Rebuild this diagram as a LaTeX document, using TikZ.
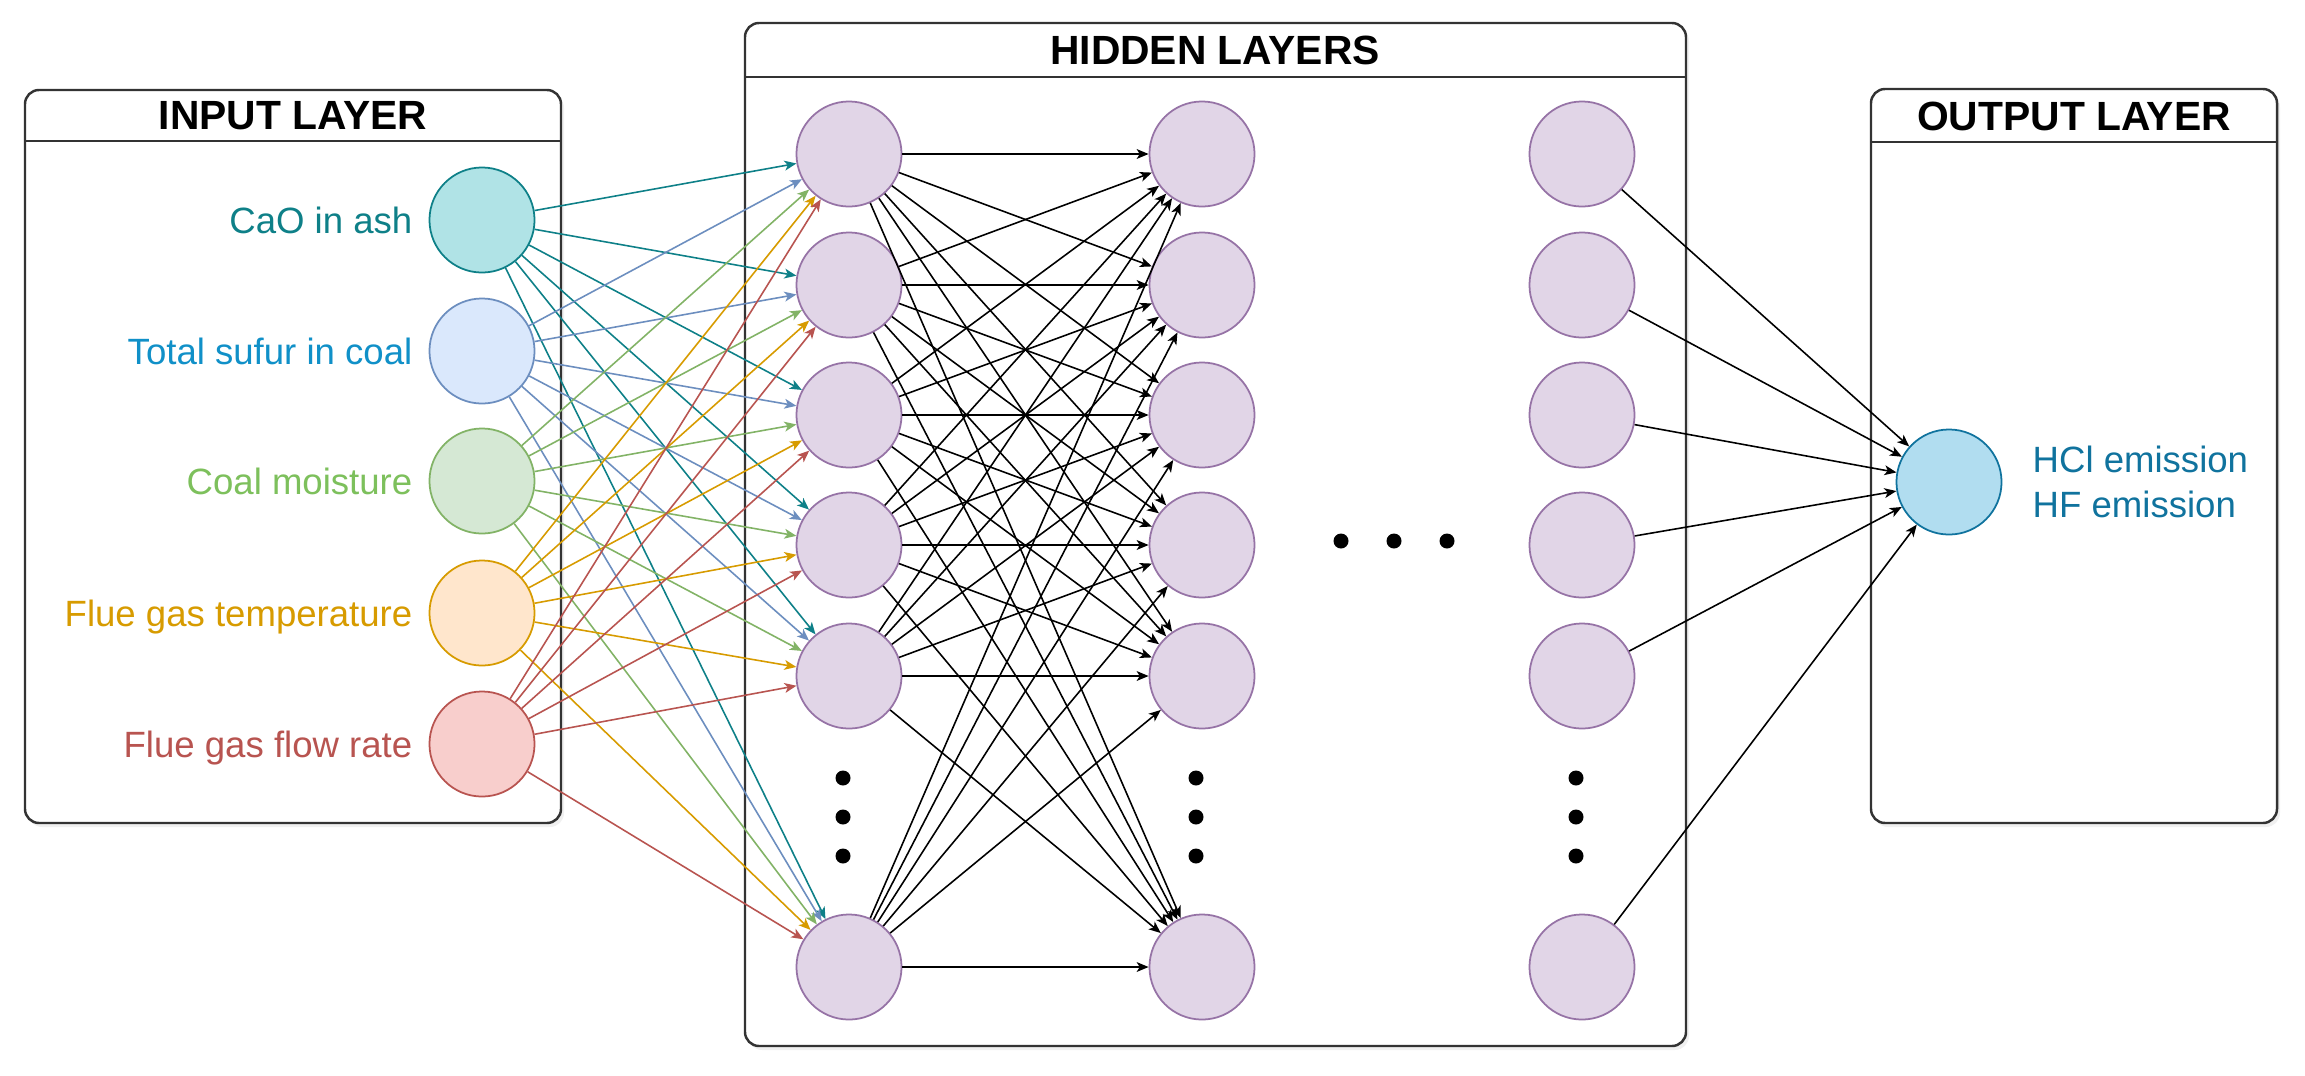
\documentclass[tikz,border=0pt]{standalone}
\usepackage{fontspec}
\setmainfont{Liberation Sans}
\usetikzlibrary{arrows.meta,shadows}

\definecolor{caoF}{HTML}{B0E3E6}
\definecolor{caoD}{HTML}{0E8088}
\definecolor{sulF}{HTML}{DAE8FC}
\definecolor{sulD}{HTML}{6C8EBF}
\definecolor{sulT}{HTML}{1090C8}
\definecolor{moiF}{HTML}{D5E8D4}
\definecolor{moiD}{HTML}{82B366}
\definecolor{moiT}{HTML}{7DC05C}
\definecolor{temF}{HTML}{FFE6CC}
\definecolor{temD}{HTML}{D79B00}
\definecolor{floF}{HTML}{F8CECC}
\definecolor{floD}{HTML}{B85450}
\definecolor{hidF}{HTML}{E1D5E7}
\definecolor{hidD}{HTML}{9673A6}
\definecolor{outF}{HTML}{B1DDF0}
\definecolor{outD}{HTML}{10739E}

\begin{document}
\begin{tikzpicture}[x=0.01cm, y=-0.01cm,
  neuron/.style={circle, minimum size=1.05cm, inner sep=0pt, line width=0.5pt},
  layerbox/.style={draw=black!80, line width=0.7pt, rounded corners=0.14cm, fill=white,
    drop shadow={opacity=0.12, shadow xshift=0.03cm, shadow yshift=-0.04cm}},
  head/.style={font=\fontsize{11.6}{14}\selectfont\bfseries},
  lbl/.style={inner sep=0pt, font=\fontsize{10.4}{12.8}\selectfont},
  link/.style={line width=0.45pt, -{Stealth[length=3.4pt, width=2.8pt, inset=0.9pt]}}]

\useasboundingbox (0,0) rectangle (2305,1075);

% Рамки слоёв
\draw[layerbox] (25,90) rectangle (561,823);
\draw[black!80, line width=0.7pt] (25,141) -- (561,141);
\node[head] (inhead) at (293,116) {INPUT LAYER};

\draw[layerbox] (745,23) rectangle (1686,1046);
\draw[black!80, line width=0.7pt] (745,77) -- (1686,77);
\node[head] (hidhead) at (1215,50) {HIDDEN LAYERS};

\draw[layerbox] (1871,89) rectangle (2277,823);
\draw[black!80, line width=0.7pt] (1871,142) -- (2277,142);
\node[head] (outhead) at (2074,116) {OUTPUT LAYER};

% Входной слой
\foreach \n/\y/\f/\d/\t/\txt in {1/220/caoF/caoD/caoD/CaO in ash,
    2/351/sulF/sulD/sulT/Total sufur in coal,
    3/481/moiF/moiD/moiT/Coal moisture,
    4/613/temF/temD/temD/Flue gas temperature,
    5/744/floF/floD/floD/Flue gas flow rate} {
  \node[neuron, fill=\f, draw=\d] (i\n) at (482,\y) {};
  \node[lbl, text=\t, anchor=base east] (t\n) at (413,\y+13) {\txt};
}

% Скрытые слои
\foreach \r/\y in {1/154,2/285,3/415,4/545,5/676,6/967} {
  \node[neuron, fill=hidF, draw=hidD] (a\r) at (849,\y) {};
  \node[neuron, fill=hidF, draw=hidD] (b\r) at (1202,\y) {};
  \node[neuron, fill=hidF, draw=hidD] (c\r) at (1582,\y) {};
}

% Выходной слой
\node[neuron, fill=outF, draw=outD] (out) at (1949,482) {};
\node[lbl, text=outD, align=left, anchor=west] (outtxt) at (2032,482) {HCl emission\\HF emission};

% Точки
\foreach \x in {843,1196,1576}
\foreach \y in {778,817,856}
    \fill ({\x},{\y}) circle (0.075cm);
\foreach \x in {1341,1394,1447}
    \fill ({\x},541) circle (0.075cm);

% Связи
\foreach \n/\d in {1/caoD,2/sulD,3/moiD,4/temD,5/floD}
\foreach \r in {1,...,6}
    \draw[link, draw=\d] (i\n) -- (a\r);

\foreach \r in {1,...,6}
\foreach \s in {1,...,6}
    \draw[link] (a\r) -- (b\s);

\foreach \r in {1,...,6}
    \draw[link] (c\r) -- (out);

\end{tikzpicture}
\end{document}
